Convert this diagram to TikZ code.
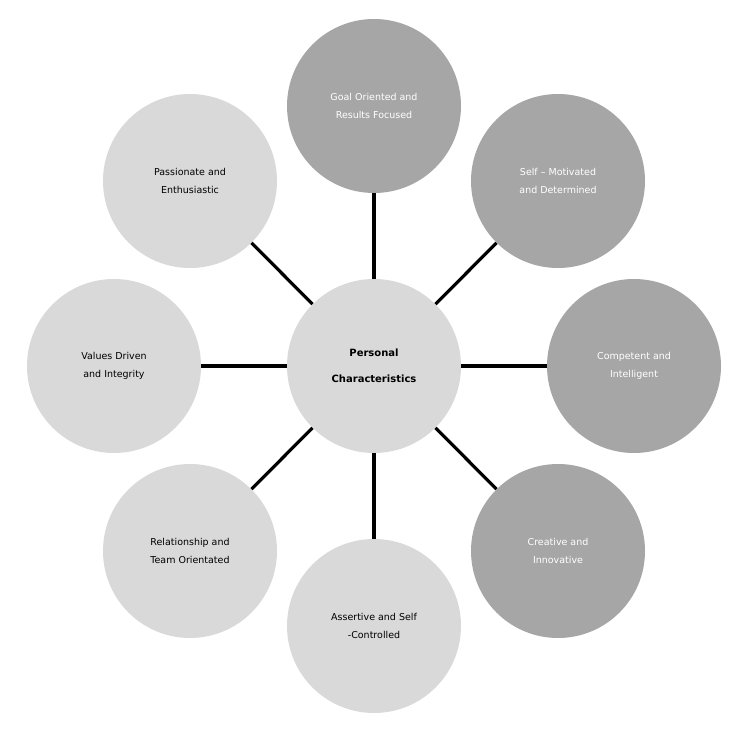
\documentclass[tikz,border=0pt]{standalone}
\usepackage{fontspec}
\setmainfont{DejaVu Sans}
\definecolor{darkc}{HTML}{A6A6A6}
\definecolor{lightc}{HTML}{D9D9D9}
\begin{document}
\begin{tikzpicture}[x=1pt,y=1pt,
    trait/.style={circle,minimum size=174pt,inner sep=0pt,align=center,font=\fontsize{9.5}{18}\selectfont},
    dark/.style={trait,fill=darkc,text=white},
    light/.style={trait,fill=lightc,text=black},
    spoke/.style={line width=3.2pt}]
    \useasboundingbox (0,0) rectangle (743,737);
    % centre
    \node[light,font=\fontsize{10}{20}\bfseries\selectfont] (core) at (374,371) {Personal\\[6pt]Characteristics};
    % outer ring
    \node[dark] (goal) at (374,631) {Goal Oriented and\\Results Focused};
    \node[dark] (self) at (558,556) {Self -- Motivated\\and Determined};
    \node[dark] (comp) at (634,371) {Competent and\\Intelligent};
    \node[dark] (crea) at (558,186) {Creative and\\Innovative};
    \node[light] (asse) at (374,111) {Assertive and Self\\-Controlled};
    \node[light] (rela) at (190,186) {Relationship and\\Team Orientated};
    \node[light] (valu) at (114,371) {Values Driven\\and Integrity};
    \node[light] (pass) at (190,556) {Passionate and\\Enthusiastic};
    \foreach \n in {goal,self,comp,crea,asse,rela,valu,pass}
        \draw[spoke] (core) -- (\n);
\end{tikzpicture}
\end{document}
